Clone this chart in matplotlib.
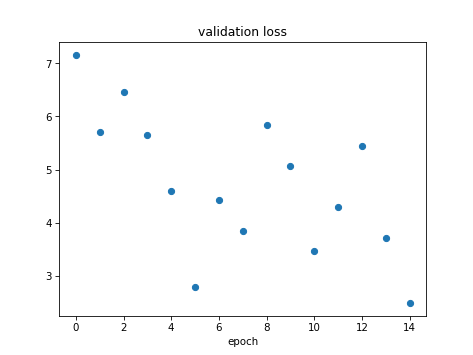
import matplotlib
matplotlib.use("Agg")
import matplotlib.pyplot as plt

epochs = list(range(15))
val_loss = [7.16, 5.70, 6.47, 5.66, 4.60, 2.79, 4.43, 3.85,
            5.84, 5.06, 3.46, 4.30, 5.44, 3.72, 2.48]

plt.figure(figsize=(6.4, 4.8), dpi=74)
plt.scatter(epochs, val_loss)
plt.title("validation loss")
plt.xlabel("epoch")
plt.savefig("out.png", dpi=74)
